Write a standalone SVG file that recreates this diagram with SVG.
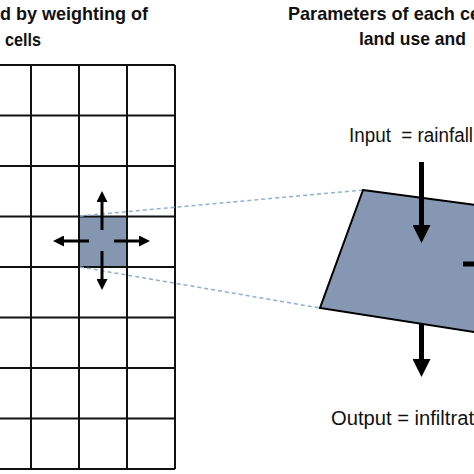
<svg xmlns="http://www.w3.org/2000/svg" width="474" height="474" viewBox="0 0 474 474">
<style>
.grid{stroke:#111;stroke-width:2;fill:none}
.cell{fill:#8496b0}
.dash{stroke:#8db0d3;stroke-width:1.5;stroke-dasharray:4 3;fill:none}
.sa{stroke:#000;stroke-width:3;fill:none}
.la{stroke:#000;stroke-width:5;fill:none}
.title{font-family:"Liberation Sans",Arial,sans-serif;font-weight:bold;font-size:19px;fill:#111}
.lbl{font-family:"Liberation Sans",Arial,sans-serif;font-size:20px;fill:#111}
</style>
<defs>
<marker id="hs" markerUnits="userSpaceOnUse" markerWidth="12" markerHeight="11" refX="0" refY="5.5" orient="auto">
<path d="M0,0 L11,5.5 L0,11 z" fill="#000"/>
</marker>
<marker id="hl" markerUnits="userSpaceOnUse" markerWidth="19" markerHeight="18" refX="0" refY="9" orient="auto">
<path d="M0,0 L18,9 L0,18 z" fill="#000"/>
</marker>
</defs>
<g id="grid">
<rect id="center-cell" class="cell" x="79" y="216.5" width="48" height="50.5"/>
<path class="grid" d="M31,65V469M79,65V469M127,65V469M175,65V469M-20,65H175M-20,115.5H175M-20,166H175M-20,216.5H175M-20,267H175M-20,317.5H175M-20,368H175M-20,418.5H175M-20,469H175"/>
</g>
<g id="connectors">
<path class="dash" d="M80,216 L363,190"/>
<path class="dash" d="M80,267 L320,308"/>
<path class="sa" d="M102,230V202" marker-end="url(#hs)"/>
<path class="sa" d="M89,241H64" marker-end="url(#hs)"/>
<path class="sa" d="M114,241H139" marker-end="url(#hs)"/>
<path class="sa" d="M102,251V279" marker-end="url(#hs)"/>
<path class="la" d="M421.5,318V359" marker-end="url(#hl)"/>
</g>
<g id="cell-detail">
<polygon points="363,190 490,207 490,334.5 320,308" fill="#8597b2" stroke="#000" stroke-width="2"/>
</g>
<g id="flows">
<path class="la" d="M421.5,162V225" marker-end="url(#hl)"/>
<path class="la" d="M463,264H480"/>
</g>
<g id="texts">
<text class="title" x="0" y="20" textLength="148" lengthAdjust="spacingAndGlyphs">d by weighting of</text>
<text class="title" x="5" y="46" textLength="36" lengthAdjust="spacingAndGlyphs">cells</text>
<text class="title" x="288" y="20" textLength="192" lengthAdjust="spacingAndGlyphs">Parameters of each ce</text>
<text class="title" x="359" y="45" textLength="107" lengthAdjust="spacingAndGlyphs">land use and</text>
<text class="lbl" x="349" y="142" xml:space="preserve" textLength="124" lengthAdjust="spacingAndGlyphs">Input  = rainfall</text>
<text class="lbl" x="331" y="425" textLength="143" lengthAdjust="spacingAndGlyphs">Output = infiltrat</text>
</g>
</svg>
